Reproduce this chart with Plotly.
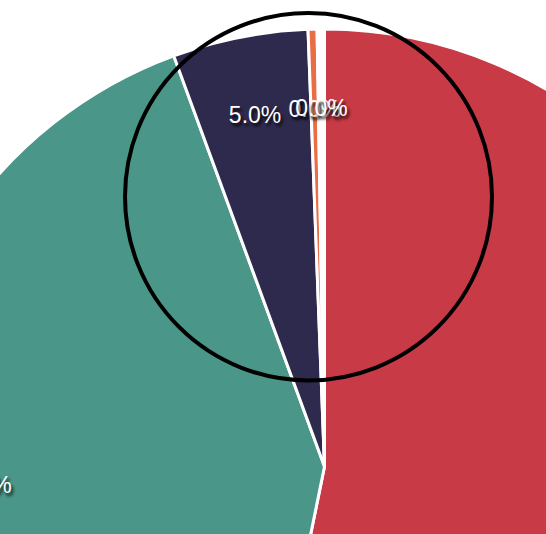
import plotly.graph_objects as go

# ---- data ----
categories = ["A", "B", "C", "D", "E"]
shares = [53.2, 41.2, 5.0, 0.33, 0.27]
pct_labels = ["53.2%", "41.2%", "5.0%", "0.0%", "0.0%"]
slice_colors = ["#C83A46", "#4A9688", "#2E2A4E", "#E86E46", "#FFFFFF"]

# big canvas, viewport shows part of it
W, H = 875, 1000
SHIFT_X, SHIFT_Y = 113.5, 96.5  # canvas offset relative to the window
CX, CY = 0.5, 0.4375           # pie centre (paper units)
HALF_X, HALF_Y = 0.5, 0.4375   # half extent of the full-size pie domain


def dom(k):
    return dict(x=[CX - HALF_X * k, CX + HALF_X * k], y=[CY - HALF_Y * k, CY + HALF_Y * k])


def only(idx):
    return [pct_labels[i] if i in idx else "" for i in range(len(shares))]


clear = ["rgba(0,0,0,0)"] * len(categories)
font = dict(family="Liberation Sans, Arial, sans-serif", size=23, color="white",
            shadow="2px 3px 3px rgba(0,0,0,0.9)")
common = dict(labels=categories, values=shares, sort=False, direction="clockwise",
              showlegend=False, hoverinfo="skip")
label_style = dict(marker=dict(colors=clear, line=dict(width=0)), textinfo="text",
                   textposition="inside", insidetextorientation="horizontal", textfont=font)

fig = go.Figure()
# the pie itself
fig.add_trace(go.Pie(
    **common, rotation=0,
    marker=dict(colors=slice_colors, line=dict(color="white", width=3)),
    textinfo="none", domain=dom(1.0),
))
# transparent layers carrying the percentage labels
fig.add_trace(go.Pie(**common, rotation=0, hole=0.73, text=only([0, 2]),
                     domain=dom(0.948), **label_style))
fig.add_trace(go.Pie(**common, rotation=1.3, hole=0.73, text=only([1]),
                     domain=dom(0.914), **label_style))
fig.add_trace(go.Pie(**common, rotation=0, text=only([3, 4]),
                     domain=dom(0.826), **label_style))

# circle highlight (window coords -> canvas paper coords)
cx0, cx1, cy0, cy1 = 124.5, 491.5, 12.5, 380.0
fig.add_shape(
    type="circle", xref="paper", yref="paper",
    x0=(cx0 + SHIFT_X) / W, x1=(cx1 + SHIFT_X) / W,
    y0=1 - (cy1 + SHIFT_Y) / H, y1=1 - (cy0 + SHIFT_Y) / H,
    line=dict(color="black", width=4),
)

fig.update_layout(
    width=W, height=H,
    margin=dict(l=0, r=0, t=0, b=0),
    paper_bgcolor="white",
    uniformtext=dict(minsize=23, mode="show"),
)

post = (
    "var d=document.getElementById('{plot_id}');"
    "d.style.position='absolute';"
    f"d.style.left='-{SHIFT_X}px';d.style.top='-{SHIFT_Y}px';"
    "document.documentElement.style.overflow='hidden';"
    "document.body.style.overflow='hidden';"
)
fig.write_html("out.html", post_script=post)
